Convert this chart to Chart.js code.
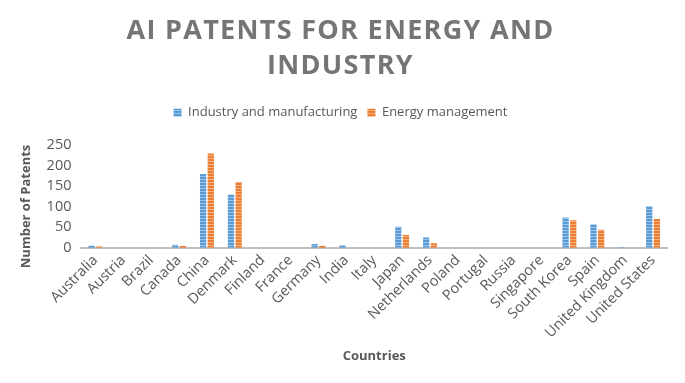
<!DOCTYPE html>
<html lang="en">
<head>
    <meta charset="UTF-8">
    <title>AI Patents for Energy and Industry</title>
    <script src="https://cdn.jsdelivr.net/npm/chart.js"></script>
    <style>
        html, body {
            margin: 0;
            padding: 0;
            background: #ffffff;
        }

        #wrap {
            width: 685px;
            height: 383px;
        }
    </style>
</head>
<body>

<div id="wrap"><canvas id="patentChart" width="685" height="383"></canvas></div>

<script>
    // Data
    const countries = ['Australia', 'Austria', 'Brazil', 'Canada', 'China', 'Denmark', 'Finland', 'France',
        'Germany', 'India', 'Italy', 'Japan', 'Netherlands', 'Poland', 'Portugal', 'Russia', 'Singapore',
        'South Korea', 'Spain', 'United Kingdom', 'United States'];
    const industryValues = [5, 0, 0, 7, 180, 130, 0, 0, 9, 6, 0, 51, 25, 0, 0, 0, 0, 74, 57, 1, 101];
    const energyValues = [3, 0, 0, 4, 230, 160, 0, 0, 5, 0, 0, 31, 11, 0, 0, 0, 0, 67, 44, 0, 70];
    const yTicks = [0, 50, 100, 150, 200, 250];

    // striped fill like the Excel pattern
    function stripes(base, light) {
        const c = document.createElement('canvas');
        c.width = 4;
        c.height = 3;
        const g = c.getContext('2d');
        g.fillStyle = base;
        g.fillRect(0, 0, 4, 3);
        g.fillStyle = light;
        g.fillRect(0, 2, 4, 1);
        return g.createPattern(c, 'repeat');
    }

    // spaced-out title letters, more room under the legend, y title sits a bit lower
    const tweaks = {
        id: 'tweaks',
        beforeInit(chart) {
            const legend = chart.legend;
            const fit = legend.fit;
            legend.fit = function () {
                fit.call(this);
                this.height += 16;
            };
        },
        beforeDraw(chart) {
            const tb = chart.titleBlock;
            if (tb && !tb._spaced) {
                const draw = tb.draw;
                tb.draw = function () {
                    const c = this.ctx;
                    c.save();
                    c.letterSpacing = '1.3px';
                    draw.call(this);
                    c.restore();
                };
                tb._spaced = true;
            }
            const ys = chart.scales.y;
            if (ys && !ys._shifted) {
                const drawTitle = ys.drawTitle;
                ys.drawTitle = function () {
                    const c = this.ctx;
                    c.save();
                    c.translate(0, 10);
                    drawTitle.call(this);
                    c.restore();
                };
                ys._shifted = true;
            }
        }
    };

    const ctx = document.getElementById('patentChart').getContext('2d');
    const grey = '#595959';

    new Chart(ctx, {
        type: 'bar',
        data: {
            labels: countries,
            datasets: [{
                label: 'Industry and manufacturing',
                data: industryValues,
                backgroundColor: stripes('#5b9bd5', '#9dc3e6'),
                borderWidth: 0,
                categoryPercentage: 0.55,
                barPercentage: 0.82
            }, {
                label: 'Energy management',
                data: energyValues,
                backgroundColor: stripes('#ed7d31', '#f4b183'),
                borderWidth: 0,
                categoryPercentage: 0.55,
                barPercentage: 0.82
            }]
        },
        plugins: [tweaks],
        options: {
            responsive: false,
            animation: false,
            layout: {
                padding: {left: 14, right: 18, top: 6, bottom: 15}
            },
            plugins: {
                title: {
                    display: true,
                    text: ['AI PATENTS FOR ENERGY AND', 'INDUSTRY'],
                    color: '#757575',
                    font: {family: 'Open Sans', size: 27, weight: 'bold', lineHeight: 1.3},
                    padding: {top: 8, bottom: 12}
                },
                legend: {
                    position: 'top',
                    labels: {
                        color: grey,
                        font: {family: 'Open Sans', size: 13},
                        boxWidth: 8,
                        boxHeight: 8,
                        padding: 10
                    }
                },
                tooltip: {enabled: false}
            },
            scales: {
                x: {
                    grid: {display: false, drawTicks: false},
                    border: {color: '#bfbfbf', width: 2},
                    ticks: {
                        color: grey,
                        font: {family: 'Open Sans', size: 14.5},
                        maxRotation: 45,
                        minRotation: 45,
                        padding: 4,
                        autoSkip: false
                    },
                    title: {
                        display: true,
                        text: 'Countries',
                        color: grey,
                        font: {family: 'Open Sans', size: 13, weight: 'bold'},
                        padding: {top: 3}
                    }
                },
                y: {
                    min: 0,
                    max: 250,
                    afterBuildTicks: axis => {
                        axis.ticks = yTicks.map(v => ({value: v}));
                    },
                    grid: {display: false, drawTicks: false},
                    border: {display: false},
                    ticks: {
                        color: grey,
                        font: {family: 'Open Sans', size: 14.5},
                        padding: 10
                    },
                    title: {
                        display: true,
                        text: 'Number of Patents',
                        color: grey,
                        font: {family: 'Open Sans', size: 13, weight: 'bold'},
                        padding: {bottom: 3}
                    }
                }
            }
        }
    });
</script>

</body>
</html>
